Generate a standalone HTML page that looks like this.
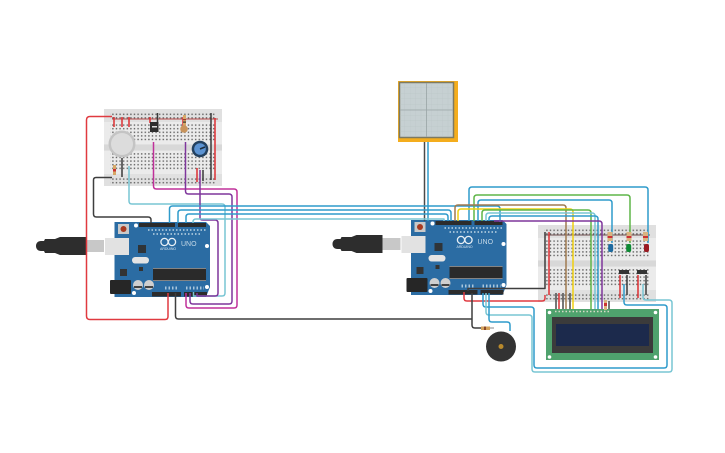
<!DOCTYPE html>
<html><head><meta charset="utf-8"><style>
html,body{margin:0;padding:0;background:#fff}
svg{display:block}
text{font-family:"Liberation Sans",sans-serif}
.w{fill:none;stroke-width:1.500;stroke-linejoin:round}
.s{fill:none;stroke-width:1.500}
</style></head><body>
<svg width="725" height="453" viewBox="0 0 725 453" xmlns="http://www.w3.org/2000/svg">
<defs>
<pattern id="h" width="3.6" height="3.6" patternUnits="userSpaceOnUse"><rect x="1" y="1" width="1.4" height="1.4" fill="#5f5f5f"/></pattern>
<pattern id="g" width="5.400" height="5.500" patternUnits="userSpaceOnUse"><path d="M5.400 0V5.500H0" fill="none" stroke="#b4bfc1" stroke-width=".4"/></pattern>
<g id="bb">
<rect x="0" y="0" width="118" height="77" fill="#e0e0e0"/>
<rect x="0" y="13" width="118" height="22" fill="#ebebeb"/>
<rect x="0" y="42" width="118" height="23" fill="#ebebeb"/>
<rect x="0" y="36" width="118" height="5" fill="#d8d8d8"/>
<rect x="6" y="3" width="106" height="7.2" fill="url(#h)"/>
<rect x="6" y="15" width="106" height="18" fill="url(#h)"/>
<rect x="6" y="43" width="106" height="18" fill="url(#h)"/>
<rect x="6" y="68" width="106" height="7.2" fill="url(#h)"/>
</g>
<g id="ard">
<path d="M36 246c0-3 2-5 5-5h3l1-2h10l5-2H86v18H60l-5-2H45l-1-2h-3c-3 0-5-2-5-5z" fill="#2d2d2d"/>
<rect x="86" y="240" width="18" height="12" fill="#c8c8c8"/>
<path d="M114.500 222H206l4 4v61l-4 10H114.500z" fill="#2b6ca3"/>
<rect x="105" y="238" width="24" height="17" fill="#e2e2e2"/>
<rect x="139" y="223" width="36" height="4" fill="#2c2c2c"/>
<rect x="178" y="223" width="28" height="4" fill="#2c2c2c"/>
<rect x="152" y="292" width="29" height="4.500" fill="#2c2c2c"/>
<rect x="184" y="292" width="23" height="4.500" fill="#2c2c2c"/>
<rect x="118" y="224" width="11" height="10" fill="#c9c9c9"/><circle cx="123.500" cy="229" r="3" fill="#a83a20"/>
<rect x="153" y="268" width="53" height="13" fill="#2a2a2a"/>
<rect x="153" y="268" width="53" height="1" fill="#ddd" opacity=".5"/>
<rect x="153" y="280" width="53" height="1" fill="#ddd" opacity=".5"/>
<rect x="138" y="245" width="8" height="8" fill="#2f3438"/>
<rect x="132" y="257" width="17" height="6.500" rx="3.200" fill="#e4e4e4"/>
<rect x="120" y="269" width="7" height="7" fill="#333"/>
<rect x="139" y="267" width="4" height="4" fill="#333"/>
<rect x="110" y="280" width="21" height="14" rx="1" fill="#262626"/>
<circle cx="138" cy="285" r="5" fill="#cfcfcf"/><path d="M134 287h8" stroke="#444" stroke-width="2"/>
<circle cx="149" cy="285" r="5" fill="#cfcfcf"/><path d="M145 287h8" stroke="#444" stroke-width="2"/>
<circle cx="136" cy="225.500" r="2" fill="#fff"/>
<circle cx="207" cy="246" r="2" fill="#fff"/>
<circle cx="207" cy="287" r="2" fill="#fff"/>
<circle cx="134" cy="293" r="2" fill="#fff"/>
<circle cx="164.500" cy="242" r="3.600" fill="none" stroke="#e8f0f6" stroke-width="1.300"/>
<circle cx="172" cy="242" r="3.600" fill="none" stroke="#e8f0f6" stroke-width="1.300"/>
<path d="M148 230h58M153 234h48" stroke="#a9c6dc" stroke-width="1.800" stroke-dasharray="1.500 2"/>
<path d="M165 288h14M186 288h18" stroke="#a9c6dc" stroke-width="3" stroke-dasharray="1.500 2"/>
</g>
</defs>
<rect width="725" height="453" fill="#fff"/>

<use href="#bb" x="104" y="109"/>
<use href="#bb" x="538" y="225"/>
<path d="M112 119H218" stroke="#b84a4a" stroke-width="1"/>
<path d="M545 235H650" stroke="#6a4a4a" stroke-width="1"/>

<use href="#ard"/>
<use href="#ard" x="296.500" y="-2"/>
<text x="181" y="246" font-size="7" fill="#c4d8e6">UNO</text>
<text x="477.500" y="244" font-size="7" fill="#c4d8e6">UNO</text>
<text x="160" y="250" font-size="3.500" fill="#dce9f3">ARDUINO</text>
<text x="456.500" y="248" font-size="3.500" fill="#dce9f3">ARDUINO</text>

<!-- Touch screen -->
<rect x="398" y="81" width="60" height="61" fill="#f4ad1d"/>
<rect x="399.500" y="82.500" width="54" height="55" fill="#c6d0d2" stroke="#7d7a62" stroke-width="1.500"/>
<rect x="400" y="83" width="53" height="54" fill="url(#g)"/>
<path d="M426.500 83v54M400 110h53" stroke="#9aa5a7" stroke-width=".8"/>
<path d="M424.500 142v79" class="s" stroke="#4a4a4a"/>
<path d="M428 142v79" class="s" stroke="#2f9bcb"/>

<!-- BB1 components -->
<path d="M114 117v10M122 117v10M129 117v10M150 117v6M183 117v10M197 168v14M215 118v62" class="s" stroke="#dc2f33"/>
<path d="M157.500 113v10M122 158v19M203 170v11M211 113v67" class="s" stroke="#3a3a3a"/>
<rect x="150" y="122" width="8.500" height="10" fill="#2d2d2d"/><rect x="152" y="126" width="5" height="1.500" fill="#ddd"/>
<rect x="183" y="115" width="3" height="11" fill="#d6a867"/><rect x="183" y="119" width="3" height="1.200" fill="#9c3a28"/><rect x="183" y="121.500" width="3" height="1.200" fill="#333"/>
<circle cx="184" cy="129" r="3.800" fill="#c8945c"/>
<circle cx="122" cy="144" r="13.500" fill="#c4c4c4"/><circle cx="122" cy="144" r="11" fill="#dcdcdc"/>
<rect x="113" y="165" width="3" height="10" fill="#d6a867"/><rect x="113" y="169" width="3" height="2.500" fill="#c33"/>
<circle cx="200" cy="149" r="8.300" fill="#23405e"/><circle cx="200" cy="149" r="5.800" fill="#5c93d2"/><path d="M200 149l5-2" stroke="#1d2c3c" stroke-width="1.500"/>

<!-- Arduino 1 wires -->
<path class="w" stroke="#e03a40" d="M112 116.500H90q-3.500 0-3.500 3.500V316q0 3.500 3.500 3.500H165q3 0 3-3V293"/>
<path class="w" stroke="#3e3e3e" d="M112 177.500H96q-2.500 0-2.500 2.500V214q0 3 3 3H148q3 0 3 3v3"/>
<path class="w" stroke="#78c6d4" d="M129 166V201q0 3 3 3H222q3 0 3 3V293q0 3-3 3H193.500V292"/>
<path class="w" stroke="#c0309a" d="M153.500 142V186q0 3 3 3H234q3 0 3 3V305q0 3-3 3H189q-3 0-3-3V293"/>
<path class="w" stroke="#7f369c" d="M185.500 142V191q0 3 3 3H229q3 0 3 3V301q0 3-3 3H193q-3 0-3-3V293"/>
<path class="w" stroke="#7f369c" d="M200 170V218q0 2 3 2H215q3 0 3 3V293q0 3-3 3H197V293"/>
<path class="w" stroke="#2f9bcb" d="M169.500 223V209q0-3 3-3H497q3 0 3 3V222"/>
<path class="w" stroke="#2f9bcb" d="M178 223V213q0-3 3-3H448q3 0 3 3V221"/>
<path class="w" stroke="#2f9bcb" d="M186 223V217q0-3 3-3H445q3 0 3 3V221"/>
<path class="w" stroke="#78c6d4" d="M193 223V222q0-3 3-3H444V221"/>
<path class="w" stroke="#3e3e3e" d="M175.500 293V316q0 3 3 3H472"/>

<!-- Arduino 2 wires -->
<path class="w" stroke="#2f9bcb" d="M469 221V190q0-3 3-3H645q3 0 3 3V243"/>
<path class="w" stroke="#5fb548" d="M474 221V198q0-3 3-3H627q3 0 3 3V243"/>
<path class="w" stroke="#2f9bcb" d="M478 221V203q0-3 3-3H609q3 0 3 3V243"/>
<path class="w" stroke="#a07a50" d="M455 221V208q0-3 3-3H563q3 0 3 3V309"/>
<path class="w" stroke="#efd010" d="M458 221V212q0-3 3-3H570q3 0 3 3V309"/>
<path class="w" stroke="#5fb548" d="M482 221V213q0-3 3-3H588q3 0 3 3V309"/>
<path class="w" stroke="#78c6d4" d="M486 221V216q0-3 3-3H592q3 0 3 3V309"/>
<path class="w" stroke="#2f9bcb" d="M489 221V219q0-3 3-3H595q3 0 3 3V309"/>
<path class="w" stroke="#7f369c" d="M494 221H599q3 0 3 3V309"/>
<path class="w" stroke="#3e3e3e" d="M468 291V288.500H545V232"/>
<path class="w" stroke="#e03a40" d="M464 292V298q0 3 3 3H542q3 0 3-3V295"/>
<path class="s" stroke="#dc2f33" d="M549 232V295"/>
<path class="w" stroke="#3e3e3e" d="M472 293V325q0 3 3 3H481"/>
<path class="w" stroke="#2f9bcb" d="M483 293V304q0 3 3 3H531q3 0 3 3V365q0 3 3 3H664q3 0 3-3V308q0-3-3-3H627q-3 0-3-3V284"/>
<path class="w" stroke="#78c6d4" d="M486 293V312q0 3 3 3H529q3 0 3 3V369q0 3 3 3H669q3 0 3-3V303q0-3-3-3H646q-3 0-3-3V284"/>
<path class="w" stroke="#2f9bcb" d="M489 293V319q0 3 3 3H507q3 0 3 3V331"/>

<!-- BB2 components -->
<rect x="607.500" y="232" width="5" height="9" fill="#d9b380"/><rect x="607.500" y="236" width="5" height="2" fill="#c33"/>
<rect x="626.500" y="232" width="5" height="9" fill="#d9b380"/><rect x="626.500" y="236" width="5" height="2" fill="#c33"/>
<rect x="643" y="232" width="5" height="9" fill="#d9b380"/><rect x="643" y="236" width="5" height="2" fill="#c33"/>
<rect x="608.200" y="244" width="5" height="8" rx="2" fill="#1d6aa0"/>
<rect x="626.200" y="244" width="5" height="8" rx="2" fill="#0d8a34"/>
<rect x="644" y="244" width="5" height="8" rx="2" fill="#9a1a22"/>
<path d="M620 275V298M638 275V298" class="s" stroke="#dc2f33"/>
<path d="M627 275V295M646 275V295" class="s" stroke="#3a3a3a"/>
<rect x="619" y="270" width="10" height="4" fill="#333"/><rect x="637" y="270" width="10" height="4" fill="#333"/>

<!-- LCD -->
<rect x="546" y="309" width="113" height="51" fill="#4fa26d"/>
<rect x="552" y="317" width="101" height="36" fill="#3b3b3b"/>
<rect x="556" y="324" width="93" height="22" fill="#1c2a4c"/>
<circle cx="549.500" cy="312.500" r="1.800" fill="#fff"/><circle cx="655.500" cy="312.500" r="1.800" fill="#fff"/>
<circle cx="549.500" cy="357" r="1.800" fill="#fff"/><circle cx="655.500" cy="357" r="1.800" fill="#fff"/>
<path d="M555 311.500H610" stroke="#d8d8c8" stroke-width="1.500" stroke-dasharray="1.500 2"/>
<path d="M556 293V309M563 293V309M570 293V309M609 301V309" class="s" stroke="#4a4a4a"/>
<path d="M559 293V309" class="s" stroke="#dc2f33"/>
<rect x="604" y="300" width="3" height="10" fill="#d9b380"/><rect x="604" y="303" width="3" height="3" fill="#c33"/>

<!-- Buzzer -->
<rect x="481" y="326.500" width="9" height="3.500" fill="#d4a25c"/><rect x="484" y="326.500" width="2" height="3.500" fill="#8a4a2a"/>
<path d="M490 328H494" stroke="#888" stroke-width="1"/>
<circle cx="501" cy="346.500" r="15" fill="#333"/><circle cx="501" cy="346.500" r="2.500" fill="#b8892c"/>
</svg>
</body></html>
